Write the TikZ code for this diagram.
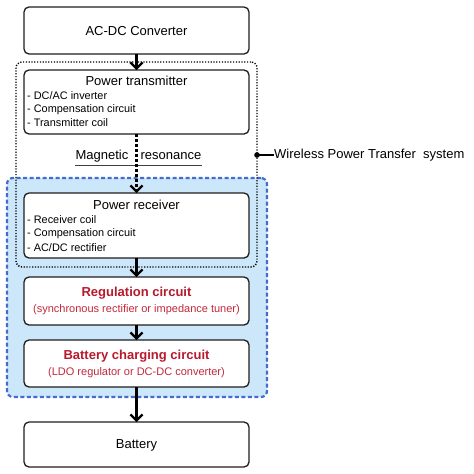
\documentclass[tikz,border=0pt]{standalone}
\usepackage{fontspec}
\setmainfont{Liberation Sans}
\usetikzlibrary{arrows.meta}
\definecolor{boxline}{RGB}{30,30,30}
\definecolor{bluefill}{RGB}{204,230,250}
\definecolor{blueedge}{RGB}{68,108,205}
\definecolor{darkred}{RGB}{185,25,45}
\definecolor{subred}{RGB}{195,40,60}
\begin{document}
\begin{tikzpicture}[x=1pt,y=-1pt,
  box/.style={draw=boxline, line width=1.3pt, rounded corners=5pt, fill=white,
    minimum width=225pt, inner sep=0pt, outer sep=0pt},
  arr/.style={-{Straight Barb[length=6pt,width=12pt,line width=2.2pt]}, line width=2.2pt},
  big/.style={font=\fontsize{13}{15}\selectfont, inner sep=0pt},
  small/.style={font=\fontsize{10.9}{12}\selectfont, inner sep=0pt, anchor=west},
  redtitle/.style={font=\bfseries\fontsize{13}{15}\selectfont, inner sep=0pt, text=darkred},
  redsub/.style={font=\fontsize{11}{13}\selectfont, inner sep=0pt, text=subred}]
\useasboundingbox (0,0) rectangle (474,474);
% blue receiver-side region
\node[draw=blueedge, fill=bluefill, line width=2.2pt, dash pattern=on 4pt off 2.5pt,
  rounded corners=6pt, minimum width=260pt, minimum height=219pt, inner sep=0pt] (rxarea) at (137,287.5) {};
% dotted wireless power transfer system region
\node[draw=black, line width=1.4pt, dash pattern=on 1.2pt off 1.6pt,
  rounded corners=6pt, minimum width=241pt, minimum height=205pt, inner sep=0pt] (wptarea) at (136.5,164.5) {};
% boxes
\node[box, minimum height=47pt] (acdc) at (136.5,30.5) {};
\node[big] (acdct) at (136.5,31) {AC-DC Converter};
\node[box, minimum height=64pt] (ptx) at (136.5,102) {};
\node[big] (ptxt) at (136.5,81) {Power transmitter};
\node[small] (ptx1) at (27,96) {- DC/AC inverter};
\node[small] (ptx2) at (27,109.5) {- Compensation circuit};
\node[small] (ptx3) at (27,123) {- Transmitter coil};
\node[box, minimum height=65pt] (prx) at (136.5,225.5) {};
\node[big] (prxt) at (136.5,205) {Power receiver};
\node[small] (prx1) at (27,220) {- Receiver coil};
\node[small] (prx2) at (27,233.5) {- Compensation circuit};
\node[small] (prx3) at (27,248) {- AC/DC rectifier};
\node[box, minimum height=48pt] (reg) at (136.5,301) {};
\node[redtitle] (regt) at (136.5,293) {Regulation circuit};
\node[redsub] (regs) at (136.5,310) {(synchronous rectifier or impedance tuner)};
\node[box, minimum height=47pt] (bcc) at (136.5,363.5) {};
\node[redtitle] (bcct) at (136.5,356.5) {Battery charging circuit};
\node[redsub] (bccs) at (136.5,373) {(LDO regulator or DC-DC converter)};
\node[box, minimum height=45pt] (bat) at (136.5,444.5) {};
\node[big] (batt) at (136.5,445) {Battery};
% magnetic resonance label
\node[big] (mag) at (102,156.5) {Magnetic};
\node[big] (res) at (171,156.5) {resonance};
\draw[line width=0.9pt, draw=black!75] (mag.south west) ++(0,2.5) coordinate (ul1) -- (res.south east |- ul1) coordinate (ul2);
% connectors
\draw[arr] (acdc.south) -- (ptx.north);
\draw[arr, dash pattern=on 3pt off 2pt] (ptx.south) -- (prx.north);
\draw[arr] (prx.south) -- (reg.north);
\draw[arr] (reg.south) -- (bcc.north);
\draw[arr] (bcc.south) -- (bat.north);
% system label
\coordinate (dot) at (257,155);
\fill (dot) circle (2.8pt);
\node[big, anchor=west] (wpt) at (274,155) {Wireless Power Transfer\ \ system};
\draw[line width=1.3pt] (dot) -- (wpt.west);
\end{tikzpicture}
\end{document}
